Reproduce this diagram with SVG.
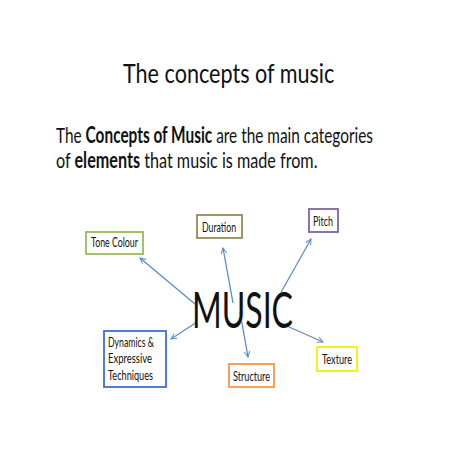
<svg xmlns="http://www.w3.org/2000/svg" width="452" height="452" viewBox="0 0 452 452">
<style>
text{font-family:Lato,"Open Sans","Liberation Sans",sans-serif;fill:#111}
.body{font-size:22px}
.b{font-weight:bold}
.box{fill:#fff;stroke-width:1.8}
.lbl{font-size:12.5px}
.conn line{stroke:#5B8BC6;stroke-width:1.3;marker-end:url(#ah)}
</style>
<defs>
<marker id="ah" viewBox="0 0 10 10" refX="9" refY="5" markerWidth="7" markerHeight="7" orient="auto" markerUnits="userSpaceOnUse">
<path d="M1,1 L9,5 L1,9" fill="none" stroke="#5B8BC6" stroke-width="1.4"/>
</marker>
</defs>
<rect width="452" height="452" fill="#fff"/>
<text transform="translate(123,83) scale(0.8,1)" font-size="27">The concepts of music</text>
<text class="body" transform="translate(56,143) scale(0.7,1)">The <tspan class="b">Concepts of Music</tspan> are the main categories</text>
<text class="body" transform="translate(56,168) scale(0.735,1)">of <tspan class="b">elements</tspan> that music is made from.</text>
<g id="connectors" class="conn">
<line x1="195" y1="304" x2="140" y2="258"/>
<line x1="197" y1="322" x2="171" y2="339"/>
<line x1="233" y1="303" x2="223" y2="248"/>
<line x1="240" y1="312" x2="248" y2="357"/>
<line x1="275" y1="303" x2="311" y2="239"/>
<line x1="280" y1="323" x2="323" y2="342"/>
</g>
<g id="music">
<text x="192" y="328" font-size="50" textLength="101" lengthAdjust="spacingAndGlyphs" stroke="#fff" stroke-width="0.6" paint-order="stroke">MUSIC</text>
</g>
<g id="tone-colour">
<rect class="box" x="86" y="232" width="57" height="22" stroke="#9BBB59"/>
<text class="lbl" x="91" y="247" textLength="47" lengthAdjust="spacingAndGlyphs">Tone Colour</text>
</g>
<g id="duration">
<rect class="box" x="197" y="215" width="45" height="23" stroke="#948A54"/>
<text class="lbl" x="202" y="232" textLength="34" lengthAdjust="spacingAndGlyphs">Duration</text>
</g>
<g id="pitch">
<rect class="box" x="309" y="209" width="29" height="23" stroke="#8064A2"/>
<text class="lbl" x="313" y="226" textLength="20" lengthAdjust="spacingAndGlyphs">Pitch</text>
</g>
<g id="dynamics">
<rect class="box" x="104" y="331" width="62" height="56" stroke="#3C6FD6" stroke-width="2"/>
<text class="lbl" x="108" y="347" textLength="46" lengthAdjust="spacingAndGlyphs">Dynamics &amp;</text>
<text class="lbl" x="108" y="363" textLength="44" lengthAdjust="spacingAndGlyphs">Expressive</text>
<text class="lbl" x="108" y="380" textLength="45" lengthAdjust="spacingAndGlyphs">Techniques</text>
</g>
<g id="structure">
<rect class="box" x="229" y="364" width="45" height="23" stroke="#F79646"/>
<text class="lbl" x="233" y="381" textLength="37" lengthAdjust="spacingAndGlyphs">Structure</text>
</g>
<g id="texture">
<rect class="box" x="317" y="347" width="40" height="24" stroke="#F2F200" stroke-width="2"/>
<text class="lbl" x="322" y="364" textLength="30" lengthAdjust="spacingAndGlyphs">Texture</text>
</g>
</svg>
